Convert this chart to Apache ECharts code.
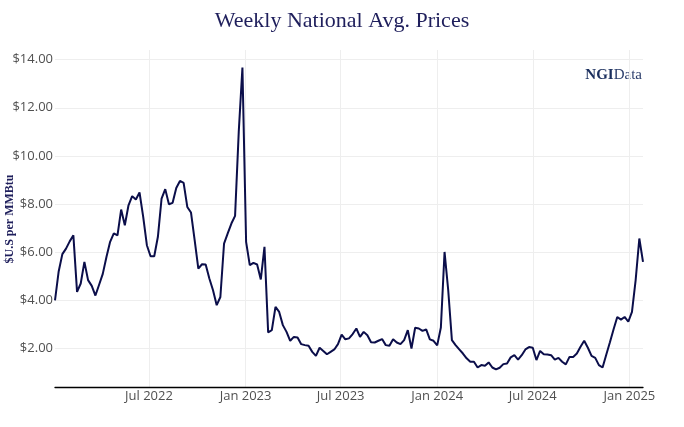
<!DOCTYPE html>
<html>
<head>
<meta charset="utf-8">
<script src="https://cdn.jsdelivr.net/npm/echarts@6/dist/echarts.min.js"></script>
<style>
  html, body { margin: 0; padding: 0; background: #fff; }
  #chart { width: 684px; height: 427px; }
</style>
</head>
<body>
<div id="chart"></div>
<script>
// weekly prices, one value per Monday starting 2022-01-03
var firstWeek = [2022, 0, 3];
var prices = [
  4.00, 5.20, 5.92, 6.15, 6.45, 6.70, 4.35, 4.70, 5.60, 4.84,
  4.60, 4.20, 4.65, 5.10, 5.80, 6.43, 6.78, 6.70, 7.77, 7.12,
  7.95, 8.33, 8.19, 8.48, 7.47, 6.29, 5.83, 5.83, 6.64, 8.23,
  8.62, 7.99, 8.05, 8.67, 8.96, 8.88, 7.88, 7.65, 6.50, 5.32,
  5.50, 5.49, 4.91, 4.42, 3.80, 4.14, 6.36, 6.78, 7.19, 7.51,
  11.00, 13.67, 6.43, 5.46, 5.56, 5.49, 4.87, 6.22, 2.67, 2.76,
  3.73, 3.52, 2.97, 2.69, 2.32, 2.48, 2.46, 2.18, 2.14, 2.11,
  1.86, 1.69, 2.03, 1.90, 1.76, 1.86, 1.96, 2.18, 2.58, 2.38,
  2.42, 2.60, 2.83, 2.48, 2.69, 2.55, 2.26, 2.25, 2.32, 2.39,
  2.14, 2.11, 2.38, 2.25, 2.18, 2.35, 2.76, 2.00, 2.86, 2.83,
  2.73, 2.79, 2.38, 2.32, 2.13, 2.87, 6.01, 4.42, 2.35, 2.14,
  1.96, 1.79, 1.59, 1.45, 1.45, 1.21, 1.31, 1.28, 1.42, 1.21,
  1.13, 1.20, 1.35, 1.38, 1.63, 1.72, 1.54, 1.72, 1.96, 2.06,
  2.03, 1.52, 1.90, 1.76, 1.75, 1.72, 1.54, 1.61, 1.45, 1.34,
  1.65, 1.65, 1.79, 2.07, 2.32, 2.03, 1.69, 1.61, 1.31, 1.21,
  1.74, 2.26, 2.80, 3.31, 3.20, 3.31, 3.11, 3.52, 4.84, 6.57,
  5.60
];
var xTicks = ['2022-07-01', '2023-01-01', '2023-07-01', '2024-01-01', '2024-07-01', '2025-01-01'];
var yTicks = [2, 4, 6, 8, 10, 12, 14];
var monthNames = ['Jan', 'Feb', 'Mar', 'Apr', 'May', 'Jun', 'Jul', 'Aug', 'Sep', 'Oct', 'Nov', 'Dec'];

var seriesData = prices.map(function (v, i) {
    var d = new Date(firstWeek[0], firstWeek[1], firstWeek[2] + 7 * i);
    return [d.getTime(), v];
});
var xTickValues = xTicks.map(function (s) {
    var p = s.split('-');
    return new Date(+p[0], +p[1] - 1, +p[2]).getTime();
});

var chart = echarts.init(document.getElementById('chart'));
var option = {
    animation: false,
    backgroundColor: '#fff',
    title: {
        text: 'Weekly National Avg. Prices',
        left: 'center',
        top: 5,
        textStyle: {
            fontFamily: 'Liberation Serif',
            fontWeight: 'normal',
            fontSize: 22,
            color: '#1f1f5c'
        }
    },
    graphic: [{
        type: 'text',
        right: 42,
        top: 68,
        style: {
            text: '{a|NGI}{b|Data}',
            rich: {
                a: { fontFamily: 'Liberation Serif', fontWeight: 'bold', fontSize: 15, fill: '#1b2f5e' },
                b: { fontFamily: 'Liberation Serif', fontWeight: 'normal', fontSize: 15, fill: '#2b3d6b' }
            }
        }
    }, {
        // y axis title
        type: 'text',
        x: 10,
        y: 219,
        rotation: Math.PI / 2,
        style: {
            text: '$U.S per MMBtu',
            align: 'center',
            verticalAlign: 'middle',
            fontFamily: 'Liberation Serif',
            fontWeight: 'bold',
            fontSize: 12,
            fill: '#1f1f5c'
        }
    }],
    grid: { left: 55, right: 41, top: 50, bottom: 40, outerBoundsMode: 'none' },
    xAxis: {
        type: 'value',
        min: seriesData[0][0],
        max: seriesData[seriesData.length - 1][0],
        axisLine: { show: true, lineStyle: { color: '#000', width: 1.3 } },
        axisTick: { show: false, customValues: xTickValues },
        axisLabel: {
            customValues: xTickValues,
            color: '#505050',
            fontFamily: 'Open Sans',
            fontSize: 13,
            margin: 3,
            formatter: function (v) {
                var d = new Date(v);
                return monthNames[d.getMonth()] + ' ' + d.getFullYear();
            }
        },
        splitLine: { show: true, lineStyle: { color: '#eeeeee', width: 1 } }
    },
    yAxis: {
        type: 'value',
        min: 0.4,
        max: 14.4,
        axisLine: { show: false },
        axisTick: { show: false, customValues: yTicks },
        axisLabel: {
            customValues: yTicks,
            color: '#505050',
            fontFamily: 'Open Sans',
            fontSize: 13,
            margin: 2,
            formatter: function (v) { return '$' + v.toFixed(2); }
        },
        splitLine: { show: true, lineStyle: { color: '#eeeeee', width: 1 } }
    },
    series: [{
        type: 'line',
        data: seriesData,
        showSymbol: false,
        lineStyle: { color: '#0b0e4a', width: 2 },
        itemStyle: { color: '#0b0e4a' }
    }]
};
chart.setOption(option);
</script>
</body>
</html>
